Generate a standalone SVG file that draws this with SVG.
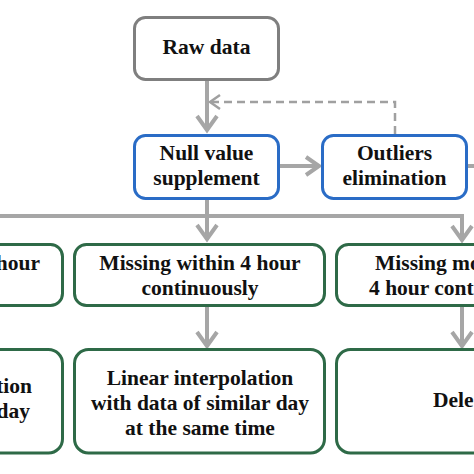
<svg xmlns="http://www.w3.org/2000/svg" width="474" height="474" viewBox="0 0 474 474">
<defs>
<style>
.t{font-family:"Liberation Serif","Times New Roman",serif;font-weight:bold;font-size:21.5px;fill:#111;text-anchor:middle}
.s{text-anchor:start}
.e{text-anchor:end}
.gray{fill:#fff;stroke:#7f7f7f;stroke-width:3}
.blue{fill:#fff;stroke:#2a6cc6;stroke-width:3}
.green{fill:#fff;stroke:#2e6a47;stroke-width:3}
.c{fill:none;stroke:#a6a6a6;stroke-width:4;stroke-linejoin:miter}
.d{fill:none;stroke:#a0a0a0;stroke-width:2.5;stroke-dasharray:8 5}
.h{fill:none;stroke:#a0a0a0;stroke-width:2.5}
</style>
</defs>
<rect width="474" height="474" fill="#fff"/>
<g id="connectors">
<line class="c" x1="207" y1="80" x2="207" y2="131"/>
<polyline class="c" points="197,116 207,130 217,116"/>
<path class="d" d="M395,134 V102 H212"/>
<polyline class="h" points="220,95 210,102 220,109"/>
<line class="c" x1="279" y1="166" x2="318" y2="166"/>
<polyline class="c" points="306,157 319,166 306,175"/>
<line class="c" x1="467" y1="166" x2="474" y2="166"/>
<line class="c" x1="207" y1="199" x2="207" y2="240"/>
<line class="c" x1="0" y1="216" x2="462" y2="216"/>
<line class="c" x1="462" y1="214" x2="462" y2="241"/>
<polyline class="c" points="197,225 207,239 217,225"/>
<polyline class="c" points="452,226 462,240 472,226"/>
<line class="c" x1="207" y1="306" x2="207" y2="346"/>
<polyline class="c" points="197,332 207,346 217,332"/>
<line class="c" x1="462" y1="306" x2="462" y2="346"/>
<polyline class="c" points="452,332 462,346 472,332"/>
</g>
<g id="raw">
<rect class="gray" x="134.5" y="17.5" width="144" height="62" rx="11"/>
<text class="t" x="206.5" y="54">Raw data</text>
</g>
<g id="null">
<rect class="blue" x="134.5" y="135.5" width="144" height="63" rx="11"/>
<text class="t" x="206.5" y="160">Null value</text>
<text class="t" x="206.5" y="185">supplement</text>
</g>
<g id="outliers">
<rect class="blue" x="322.5" y="135.5" width="144" height="63" rx="11"/>
<text class="t" x="394.5" y="160">Outliers</text>
<text class="t" x="394.5" y="185">elimination</text>
</g>
<g id="left-top">
<rect class="green" x="-190" y="244.5" width="252.5" height="61" rx="12"/>
<text class="t e" x="40" y="270">hour</text>
</g>
<g id="mid-top">
<rect class="green" x="74.5" y="244.5" width="250" height="61" rx="12"/>
<text class="t" x="200" y="270">Missing within 4 hour</text>
<text class="t" x="200" y="295">continuously</text>
</g>
<g id="right-top">
<rect class="green" x="336.5" y="244.5" width="250" height="61" rx="12"/>
<text class="t s" x="375" y="270">Missing mo</text>
<text class="t s" x="369" y="295">4 hour cont</text>
</g>
<g id="left-bottom">
<rect class="green" x="-190" y="349.5" width="252.5" height="103.5" rx="14"/>
<text class="t e" x="32" y="393">tion</text>
<text class="t e" x="30" y="418">day</text>
</g>
<g id="mid-bottom">
<rect class="green" x="74.5" y="349.5" width="250" height="103.5" rx="14"/>
<text class="t" x="200" y="385">Linear interpolation</text>
<text class="t" x="200" y="410">with data of similar day</text>
<text class="t" x="200" y="435">at the same time</text>
</g>
<g id="right-bottom">
<rect class="green" x="336.5" y="349.5" width="250" height="103.5" rx="14"/>
<text class="t s" x="433" y="407">Dele</text>
</g>
</svg>
